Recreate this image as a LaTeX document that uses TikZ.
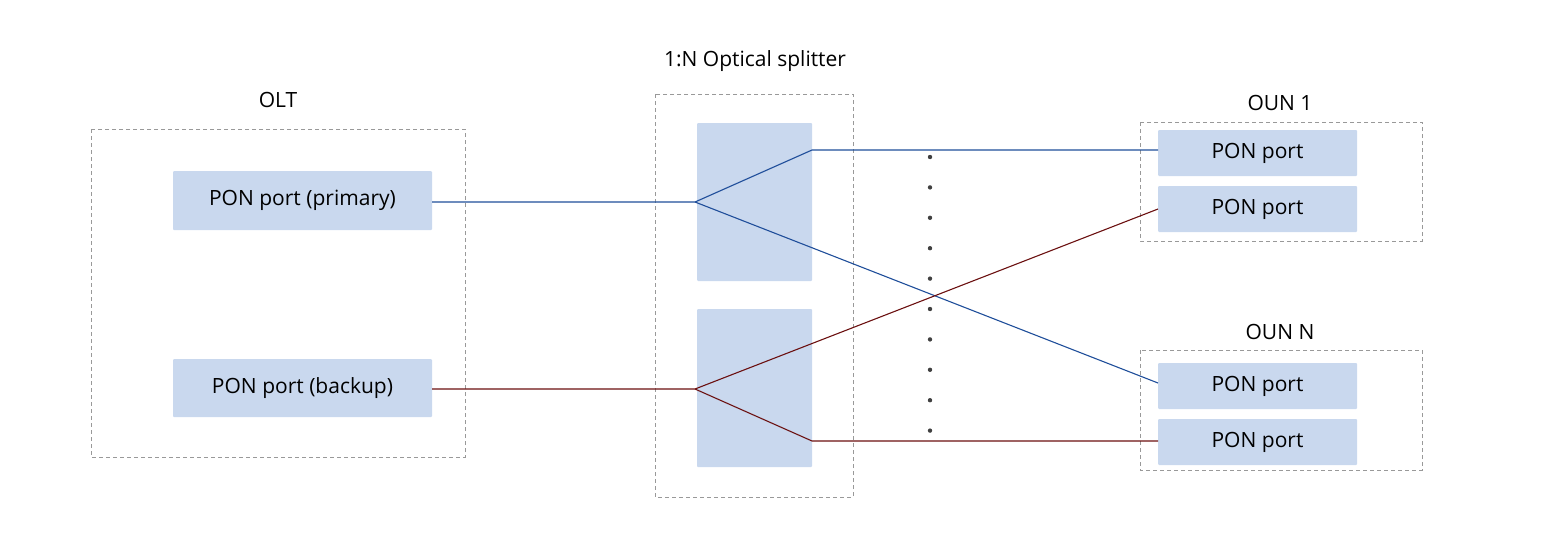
\documentclass[tikz,border=0pt]{standalone}
\usepackage{fontspec}
\setmainfont{Open Sans}
\begin{document}
\begin{tikzpicture}[x=1pt,y=-1pt,
  dbox/.style={draw=gray!80,dash pattern=on 4pt off 3pt,line width=0.9pt},
  port/.style={fill=fillc,draw=none,rounded corners=1pt},
  lbl/.style={font=\fontsize{21}{25}\selectfont},
  bl/.style={draw=bluec,line width=1.1pt},
  rd/.style={draw=redc,line width=1.1pt}]
\definecolor{fillc}{HTML}{C9D8EE}
\definecolor{bluec}{HTML}{1F4E9A}
\definecolor{redc}{HTML}{6B1010}
\useasboundingbox (0,0) rectangle (1560,558);
% boxes
\draw[dbox] (91,129) rectangle (465,457);
\node[lbl] (olt) at (278,100) {OLT};
\draw[dbox] (655,94) rectangle (853,497);
\node[lbl] (spl) at (755,61) {1:N Optical splitter};
\draw[dbox] (1140,122) rectangle (1422,241);
\node[lbl] (o1) at (1280,103) {OUN 1};
\draw[dbox] (1140,350) rectangle (1422,470);
\node[lbl] (on) at (1280,332) {OUN N};
% ports
\path[port] (173,171) rectangle (432,230); \node[lbl] (pp) at (302.5,200.5) {PON port (primary)};
\path[port] (173,359) rectangle (432,417); \node[lbl] (pb) at (302.5,388) {PON port (backup)};
\path[port] (697,123) rectangle (812,281);
\path[port] (697,309) rectangle (812,467);
\path[port] (1158,130) rectangle (1357,176); \node[lbl] (a1) at (1257.5,153) {PON port};
\path[port] (1158,186) rectangle (1357,232); \node[lbl] (a2) at (1257.5,209) {PON port};
\path[port] (1158,363) rectangle (1357,409); \node[lbl] (b1) at (1257.5,386) {PON port};
\path[port] (1158,419) rectangle (1357,465); \node[lbl] (b2) at (1257.5,442) {PON port};
\coordinate (ps) at (695,202);
\coordinate (bs) at (695,389);
% lines
\draw[bl] (432,202) -- (ps) -- (812,150) -- (1158,150);
\draw[bl] (ps) -- (1158,383);
\draw[rd] (432,389) -- (bs) -- (1158,209);
\draw[rd] (bs) -- (812,441) -- (1158,441);
\foreach \i in {0,...,9} \fill[black!75] (930,{157+30.4*\i}) circle (2.2);
\end{tikzpicture}
\end{document}
